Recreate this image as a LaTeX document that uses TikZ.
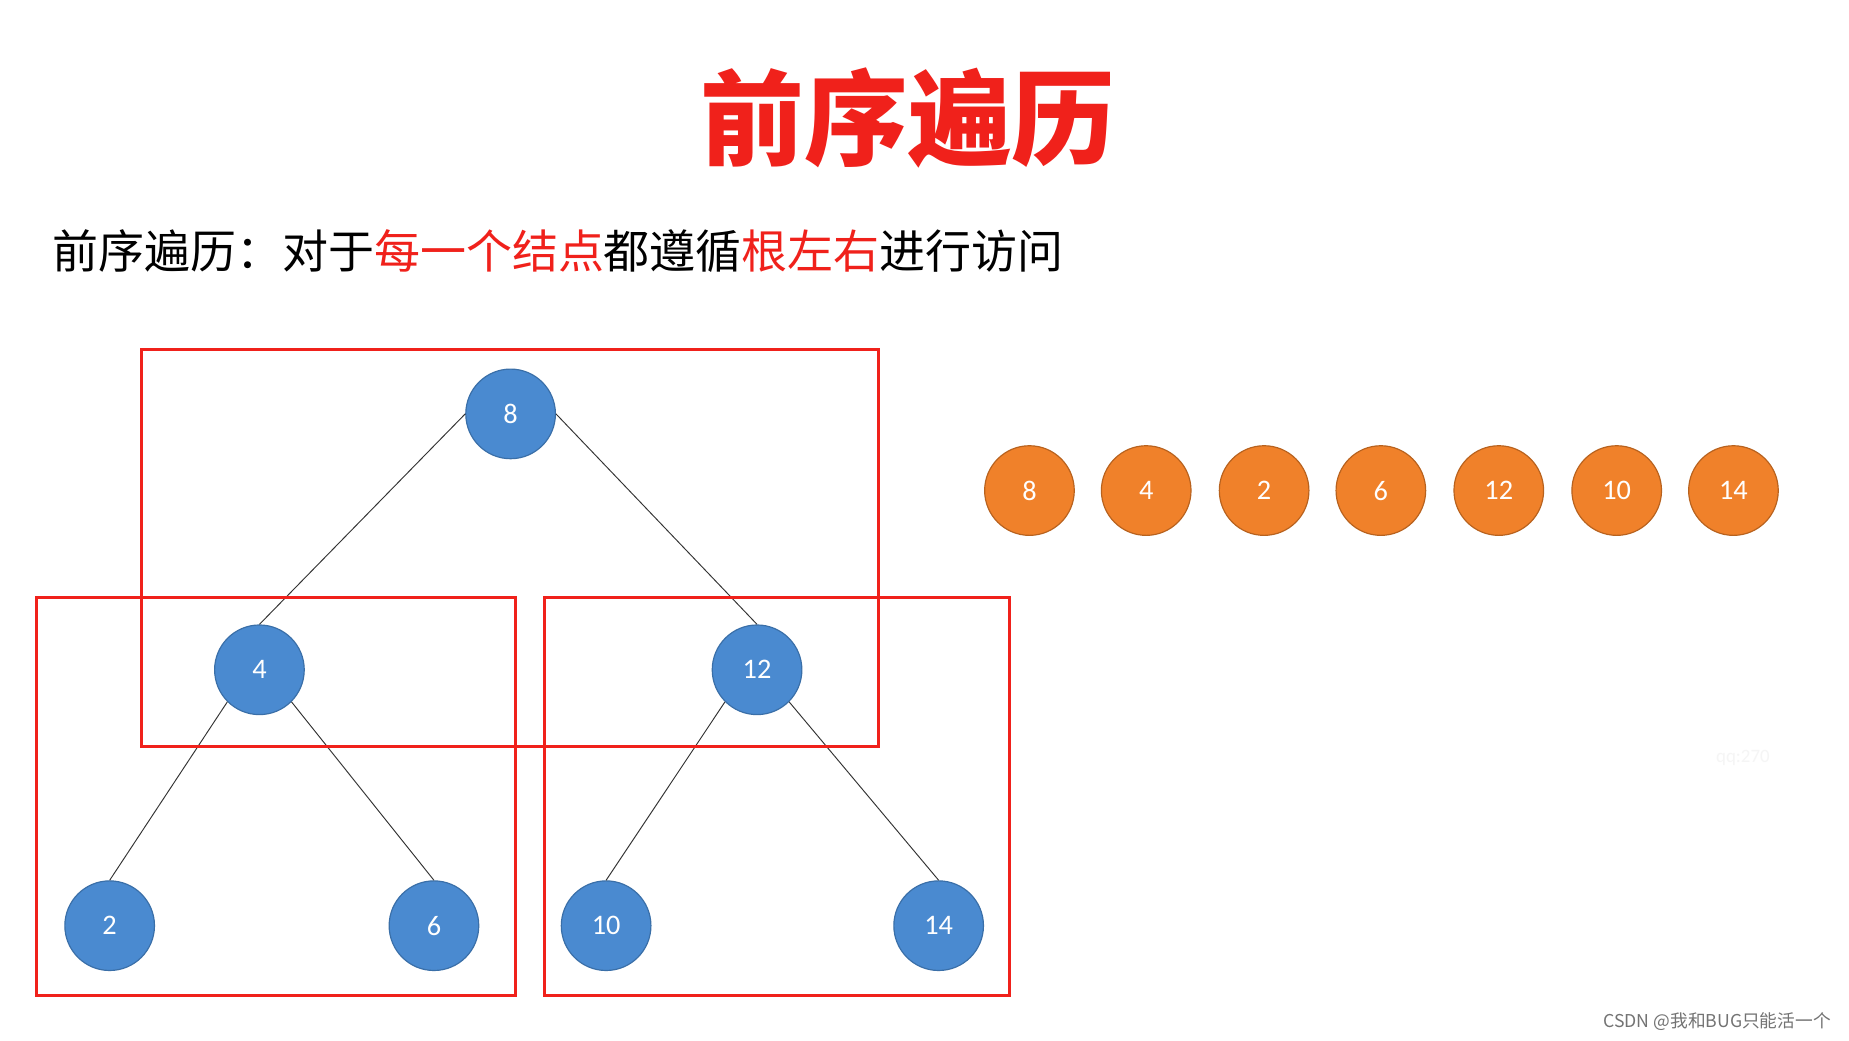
\documentclass[tikz,border=0pt]{standalone}
\usepackage{fontspec}
\newfontfamily\cjk{Noto Sans CJK SC}
\newfontfamily\num{Carlito}
\definecolor{bl}{HTML}{4A8AD0}
\definecolor{bld}{HTML}{3A6FA8}
\definecolor{og}{HTML}{F0812A}
\definecolor{ogd}{HTML}{B8621E}
\definecolor{rd}{HTML}{F0211B}
\begin{document}
\begin{tikzpicture}[x=1pt,y=-1pt,
 bnode/.style={circle,fill=bl,draw=bld,line width=1pt,minimum size=76pt,inner sep=0,text=white,font=\num\fontsize{24}{24}\selectfont},
 onode/.style={circle,fill=og,draw=ogd,line width=1pt,minimum size=76pt,inner sep=0,text=white,font=\num\fontsize{24}{24}\selectfont},
 rbox/.style={draw=rd,line width=2.5pt},
 edge/.style={draw=black!80,line width=0.8pt}]
\useasboundingbox[fill=white] (0,0) rectangle (1568,882);
\node[text=rd,font=\cjk\bfseries\fontsize{88}{88}\selectfont] (title) at (770,100) {前序遍历};
\node[anchor=west,font=\cjk\fontsize{39}{39}\selectfont,inner sep=0] (sub) at (44,213) {前序遍历：对于\textcolor{rd}{每一个结点}都遵循\textcolor{rd}{根左右}进行访问};
\node[bnode] (n8) at (433,351) {8};
\node[bnode] (n4) at (220,568) {4};
\node[bnode] (n12) at (642,568) {12};
\node[bnode] (n2) at (93,785) {2};
\node[bnode] (n6) at (368,785) {6};
\node[bnode] (n10) at (514,785) {10};
\node[bnode] (n14) at (796,785) {14};
\draw[edge] (n8.west) -- (n4.north);
\draw[edge] (n8.east) -- (n12.north);
\draw[edge] (n4.south west) -- (n2.north);
\draw[edge] (n4.south east) -- (n6.north);
\draw[edge] (n12.south west) -- (n10.north);
\draw[edge] (n12.south east) -- (n14.north);
\draw[rbox] (120,296) rectangle (745,633);
\draw[rbox] (31,507) rectangle (437,844);
\draw[rbox] (462,507) rectangle (856,844);
\foreach \x/\t/\n in {873/8/a,972/4/b,1072/2/c,1171/6/d,1271/12/e,1371/10/f,1470/14/g}
  \node[onode] (o\n) at (\x,416) {\t};
\node[text=black!4,font=\num\fontsize{16}{16}\selectfont] (qq) at (1478,643) {qq:270};
\node[anchor=east,text=black!55,font=\cjk\fontsize{15}{15}\selectfont] (wm) at (1556,866) {CSDN @我和BUG只能活一个};
\end{tikzpicture}
\end{document}
